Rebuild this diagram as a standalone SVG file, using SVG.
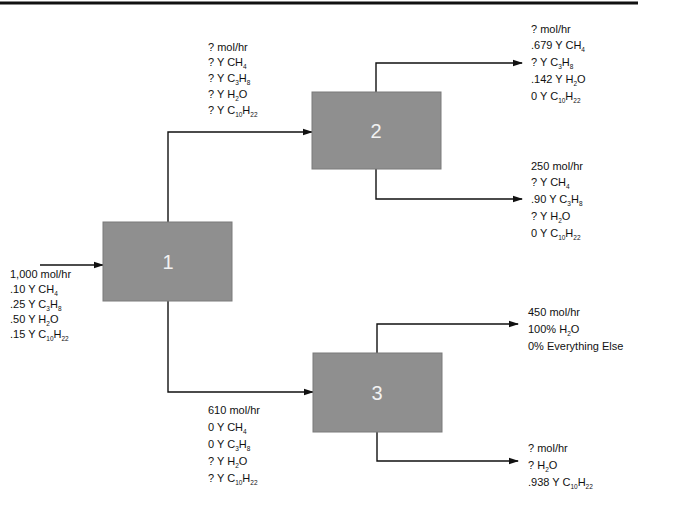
<svg xmlns="http://www.w3.org/2000/svg" width="700" height="518" viewBox="0 0 700 518">
<style>
.box{fill:#8f8f8f;stroke:#7a7a7a;stroke-width:1}
.num{font-family:"Liberation Sans",Arial,sans-serif;font-size:20px;fill:#f2f2f2;text-anchor:middle}
.lbl{font-family:"Liberation Sans",Arial,sans-serif;font-size:11px;fill:#111}
.s{font-size:6.5px}
.c{fill:none;stroke:#111;stroke-width:1.4}
</style>
<defs><marker id="a" markerWidth="10" markerHeight="8" refX="9" refY="4" orient="auto" markerUnits="userSpaceOnUse"><path d="M0,0.8 L10,4 L0,7.2z" fill="#111"/></marker></defs>
<rect width="700" height="518" fill="#fff"/>
<line x1="0" y1="3" x2="638" y2="3" stroke="#111" stroke-width="3"/>
<g id="connectors">
<path class="c" d="M40,265 H103" marker-end="url(#a)"/>
<path class="c" d="M168,222 V132 H312" marker-end="url(#a)"/>
<path class="c" d="M168,301 V392 H313" marker-end="url(#a)"/>
<path class="c" d="M376,92 V63 H522" marker-end="url(#a)"/>
<path class="c" d="M376,169 V199 H522" marker-end="url(#a)"/>
<path class="c" d="M377,353 V324 H518" marker-end="url(#a)"/>
<path class="c" d="M377,432 V461 H518" marker-end="url(#a)"/>
</g>
<g id="node1"><rect class="box" x="103" y="222" width="129" height="79"/><text class="num" x="168" y="269">1</text></g>
<g id="node2"><rect class="box" x="312" y="92" width="129" height="77"/><text class="num" x="376" y="138">2</text></g>
<g id="node3"><rect class="box" x="313" y="353" width="129" height="79"/><text class="num" x="377" y="400">3</text></g>
<g id="labels" class="lbl">
<text x="10" y="278">1,000 mol/hr</text>
<text x="10" y="293">.10 Y CH<tspan class="s" dy="3">4</tspan></text>
<text x="10" y="308">.25 Y C<tspan class="s" dy="3">3</tspan><tspan dy="-3">H</tspan><tspan class="s" dy="3">8</tspan></text>
<text x="10" y="323">.50 Y H<tspan class="s" dy="3">2</tspan><tspan dy="-3">O</tspan></text>
<text x="10" y="338">.15 Y C<tspan class="s" dy="3">10</tspan><tspan dy="-3">H</tspan><tspan class="s" dy="3">22</tspan></text>

<text x="208" y="51">? mol/hr</text>
<text x="208" y="66">? Y CH<tspan class="s" dy="3">4</tspan></text>
<text x="208" y="82">? Y C<tspan class="s" dy="3">3</tspan><tspan dy="-3">H</tspan><tspan class="s" dy="3">8</tspan></text>
<text x="208" y="98">? Y H<tspan class="s" dy="3">2</tspan><tspan dy="-3">O</tspan></text>
<text x="208" y="114">? Y C<tspan class="s" dy="3">10</tspan><tspan dy="-3">H</tspan><tspan class="s" dy="3">22</tspan></text>

<text x="531" y="33">? mol/hr</text>
<text x="531" y="49">.679 Y CH<tspan class="s" dy="3">4</tspan></text>
<text x="531" y="66">? Y C<tspan class="s" dy="3">3</tspan><tspan dy="-3">H</tspan><tspan class="s" dy="3">8</tspan></text>
<text x="531" y="83">.142 Y H<tspan class="s" dy="3">2</tspan><tspan dy="-3">O</tspan></text>
<text x="531" y="100">0 Y C<tspan class="s" dy="3">10</tspan><tspan dy="-3">H</tspan><tspan class="s" dy="3">22</tspan></text>

<text x="531" y="170">250 mol/hr</text>
<text x="531" y="186">? Y CH<tspan class="s" dy="3">4</tspan></text>
<text x="531" y="203">.90 Y C<tspan class="s" dy="3">3</tspan><tspan dy="-3">H</tspan><tspan class="s" dy="3">8</tspan></text>
<text x="531" y="220">? Y H<tspan class="s" dy="3">2</tspan><tspan dy="-3">O</tspan></text>
<text x="531" y="237">0 Y C<tspan class="s" dy="3">10</tspan><tspan dy="-3">H</tspan><tspan class="s" dy="3">22</tspan></text>

<text x="528" y="316">450 mol/hr</text>
<text x="528" y="333">100% H<tspan class="s" dy="3">2</tspan><tspan dy="-3">O</tspan></text>
<text x="528" y="350">0% Everything Else</text>

<text x="208" y="414">610 mol/hr</text>
<text x="208" y="431">0 Y CH<tspan class="s" dy="3">4</tspan></text>
<text x="208" y="448">0 Y C<tspan class="s" dy="3">3</tspan><tspan dy="-3">H</tspan><tspan class="s" dy="3">8</tspan></text>
<text x="208" y="465">? Y H<tspan class="s" dy="3">2</tspan><tspan dy="-3">O</tspan></text>
<text x="208" y="482">? Y C<tspan class="s" dy="3">10</tspan><tspan dy="-3">H</tspan><tspan class="s" dy="3">22</tspan></text>

<text x="528" y="452">? mol/hr</text>
<text x="528" y="469">? H<tspan class="s" dy="3">2</tspan><tspan dy="-3">O</tspan></text>
<text x="528" y="486">.938 Y C<tspan class="s" dy="3">10</tspan><tspan dy="-3">H</tspan><tspan class="s" dy="3">22</tspan></text>
</g>
</svg>
